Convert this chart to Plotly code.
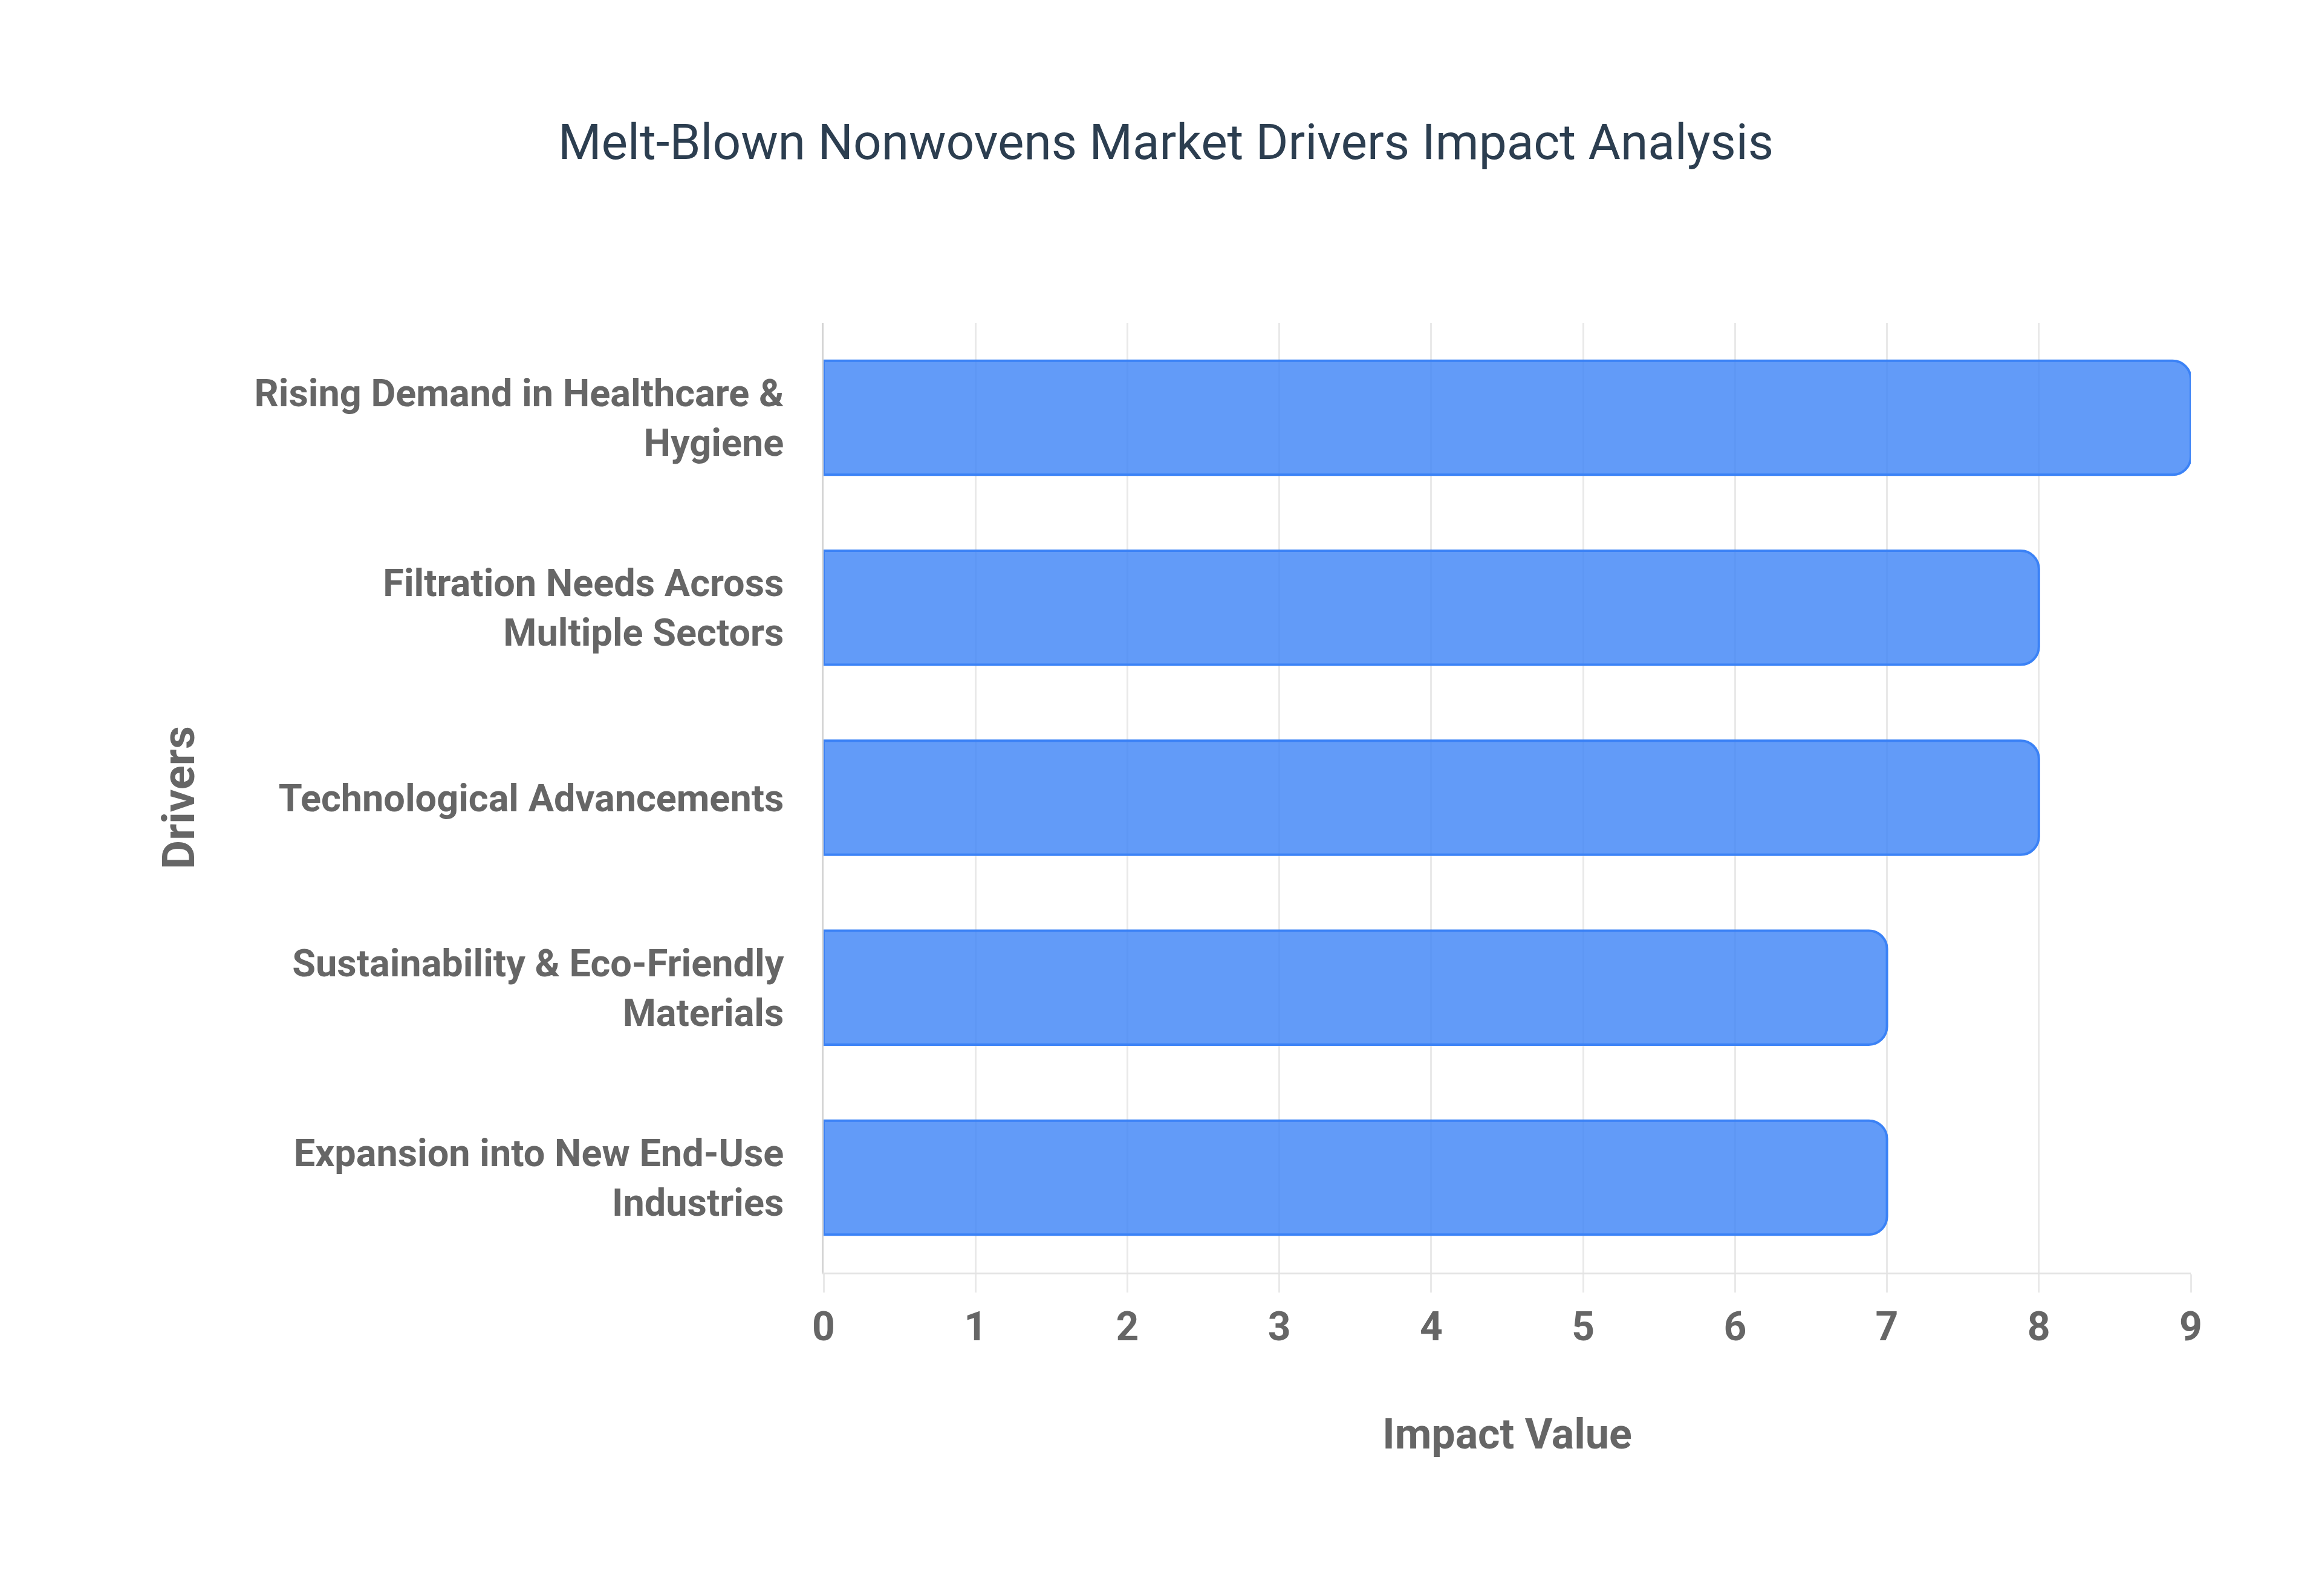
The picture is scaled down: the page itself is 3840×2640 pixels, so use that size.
import plotly.graph_objects as go

DRIVERS = [
    "Rising Demand in Healthcare &<br>Hygiene",
    "Filtration Needs Across<br>Multiple Sectors",
    "Technological Advancements",
    "Sustainability & Eco-Friendly<br>Materials",
    "Expansion into New End-Use<br>Industries",
]
IMPACT = [9, 8, 8, 7, 7]
X_TICKS = [0, 1, 2, 3, 4, 5, 6, 7, 8, 9]

BAR_FILL = "rgba(59,130,246,0.8)"
BAR_EDGE = "#3b82f6"
GRID = "#e9e9e9"
LABEL = "#666666"
FONT = "Roboto"

fig = go.Figure(go.Bar(
    x=IMPACT, y=DRIVERS, orientation="h",
    marker=dict(color=BAR_FILL, line=dict(color=BAR_EDGE, width=4), cornerradius=30),
))

fig.update_layout(
    width=3840, height=2640,
    paper_bgcolor="white", plot_bgcolor="white",
    margin=dict(l=1354, r=225, t=526, b=543),
    bargap=0.4, showlegend=False,
    title=dict(text="Melt-Blown Nonwovens Market Drivers Impact Analysis",
               x=0.5, xanchor="center", y=1 - 226 / 2640, yanchor="middle",
               font=dict(family=FONT, size=82, color="#2c3e50")),
    font=dict(family=FONT, color=LABEL),
)
fig.update_xaxes(
    range=[0, 9], tickvals=X_TICKS, showgrid=True, gridcolor=GRID, gridwidth=3,
    zeroline=False, showline=True, linecolor="#e3e3e3", linewidth=3,
    ticks="outside", ticklen=30, tickwidth=3, tickcolor=GRID, ticklabelstandoff=0,
    tickfont=dict(family=FONT, size=66, color=LABEL, weight="bold"),
    title=dict(text="Impact Value", standoff=115,
               font=dict(family=FONT, size=70, color=LABEL, weight="bold")),
)
fig.update_yaxes(
    autorange="reversed", showgrid=False, zeroline=False,
    showline=True, linecolor="#d4d4d4", linewidth=3, ticks="", ticklabelstandoff=50,
    tickfont=dict(family=FONT, size=63, color=LABEL, weight="bold"),
    title=dict(text="Drivers", standoff=75,
               font=dict(family=FONT, size=74, color=LABEL, weight="bold")),
)

fig.write_html("out.html")
